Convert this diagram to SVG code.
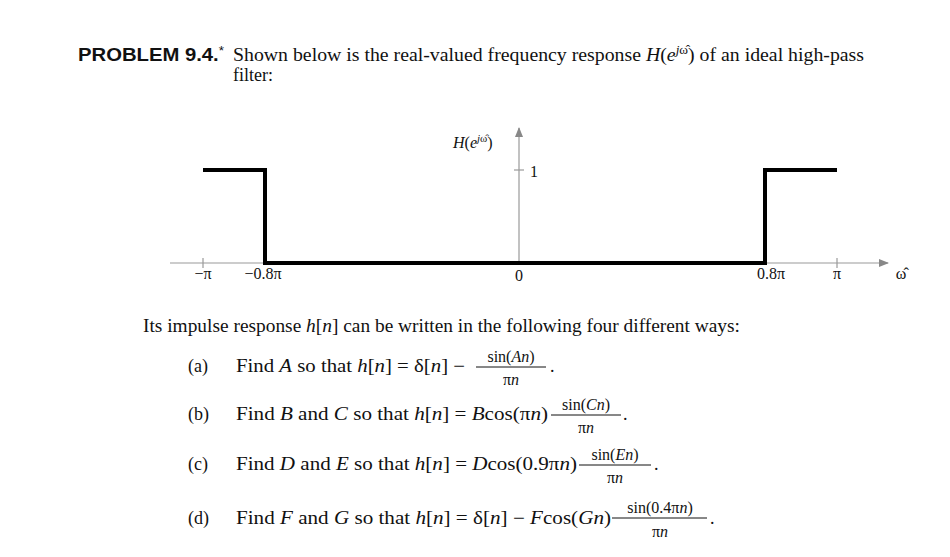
<svg xmlns="http://www.w3.org/2000/svg" width="950" height="557" viewBox="0 0 950 557">
<style>
.s{font-family:"Liberation Serif",serif;font-size:18px;fill:#111}
.i{font-style:italic}
.m{font-family:"Liberation Serif",serif;font-size:16px;fill:#111}
.ax{stroke:#999;stroke-width:1.2;fill:none}
</style>
<defs><marker id="ar" markerWidth="10" markerHeight="8" refX="9" refY="4" orient="auto" markerUnits="userSpaceOnUse"><path d="M0,0 L10,4 L0,8z" fill="#888"/></marker></defs>
<rect width="950" height="557" fill="#fff"/>
<text x="78" y="61" font-family="Liberation Sans,sans-serif" font-size="18" font-weight="bold" fill="#111" textLength="146" lengthAdjust="spacingAndGlyphs">PROBLEM 9.4.<tspan font-weight="normal" font-size="12" dy="-6">*</tspan></text>
<text x="233" y="61" class="s" textLength="631" lengthAdjust="spacingAndGlyphs">Shown below is the real-valued frequency response <tspan class="i">H</tspan>(<tspan class="i">e</tspan><tspan font-size="12" dy="-7" class="i">j</tspan><tspan font-size="12">ω̂</tspan><tspan dy="7">) of an ideal high-pass</tspan></text>
<text x="233" y="81" class="s">filter:</text>
<g id="plot">
<line class="ax" x1="170" y1="263" x2="888" y2="263" marker-end="url(#ar)"/>
<line class="ax" x1="519" y1="263" x2="519" y2="128" marker-end="url(#ar)"/>
<line class="ax" x1="514" y1="170" x2="524" y2="170"/>
<line class="ax" x1="203" y1="258" x2="203" y2="268"/>
<line class="ax" x1="837" y1="258" x2="837" y2="268"/>
<polyline points="203,170 265,170 265,263 765,263 765,170 837,170" fill="none" stroke="#000" stroke-width="4"/>
<text x="453" y="148" class="m"><tspan class="i">H</tspan>(<tspan class="i">e</tspan><tspan font-size="11" dy="-6" class="i">j</tspan><tspan font-size="11">ω̂</tspan><tspan dy="6">)</tspan></text>
<text x="530" y="177" class="m">1</text>
<text x="203" y="279" class="m" text-anchor="middle">−π</text>
<text x="263" y="279" class="m" text-anchor="middle">−0.8π</text>
<text x="519" y="281" class="m" text-anchor="middle" font-size="10">0</text>
<text x="771" y="279" class="m" text-anchor="middle">0.8π</text>
<text x="837" y="279" class="m" text-anchor="middle">π</text>
<text x="901" y="279" class="m" text-anchor="middle">ω̂</text>
</g>
<g id="text">
<text x="143" y="332" class="s" textLength="597" lengthAdjust="spacingAndGlyphs">Its impulse response <tspan class="i">h</tspan>[<tspan class="i">n</tspan>] can be written in the following four different ways:</text>
<text x="188" y="372" class="s">(a)</text>
<text x="236" y="372" class="s" textLength="229" lengthAdjust="spacingAndGlyphs">Find <tspan class="i">A</tspan> so that <tspan class="i">h</tspan>[<tspan class="i">n</tspan>] = δ[<tspan class="i">n</tspan>] −</text>
<text x="511" y="362" class="m" text-anchor="middle">sin(<tspan class="i">An</tspan>)</text><line x1="476" y1="367" x2="546" y2="367" stroke="#111"/><text x="511" y="385" class="m" text-anchor="middle">π<tspan class="i">n</tspan></text><text x="550" y="372" class="s">.</text>
<text x="188" y="420" class="s">(b)</text>
<text x="236" y="420" class="s" textLength="312" lengthAdjust="spacingAndGlyphs">Find <tspan class="i">B</tspan> and <tspan class="i">C</tspan> so that <tspan class="i">h</tspan>[<tspan class="i">n</tspan>] = <tspan class="i">B</tspan>cos(π<tspan class="i">n</tspan>)</text>
<text x="586" y="410" class="m" text-anchor="middle">sin(<tspan class="i">Cn</tspan>)</text><line x1="551" y1="415" x2="621" y2="415" stroke="#111"/><text x="586" y="433" class="m" text-anchor="middle">π<tspan class="i">n</tspan></text><text x="623" y="420" class="s">.</text>
<text x="188" y="470" class="s">(c)</text>
<text x="236" y="470" class="s" textLength="341" lengthAdjust="spacingAndGlyphs">Find <tspan class="i">D</tspan> and <tspan class="i">E</tspan> so that <tspan class="i">h</tspan>[<tspan class="i">n</tspan>] = <tspan class="i">D</tspan>cos(0.9π<tspan class="i">n</tspan>)</text>
<text x="615" y="460" class="m" text-anchor="middle">sin(<tspan class="i">En</tspan>)</text><line x1="579" y1="465" x2="651" y2="465" stroke="#111"/><text x="615" y="483" class="m" text-anchor="middle">π<tspan class="i">n</tspan></text><text x="654" y="470" class="s">.</text>
<text x="188" y="524" class="s">(d)</text>
<text x="236" y="524" class="s" textLength="375" lengthAdjust="spacingAndGlyphs">Find <tspan class="i">F</tspan> and <tspan class="i">G</tspan> so that <tspan class="i">h</tspan>[<tspan class="i">n</tspan>] = δ[<tspan class="i">n</tspan>] − <tspan class="i">F</tspan>cos(<tspan class="i">Gn</tspan>)</text>
<text x="660" y="513" class="m" text-anchor="middle">sin(0.4π<tspan class="i">n</tspan>)</text><line x1="612" y1="518" x2="707" y2="518" stroke="#111"/><text x="660" y="537" class="m" text-anchor="middle">π<tspan class="i">n</tspan></text><text x="710" y="524" class="s">.</text>
</g>
</svg>
